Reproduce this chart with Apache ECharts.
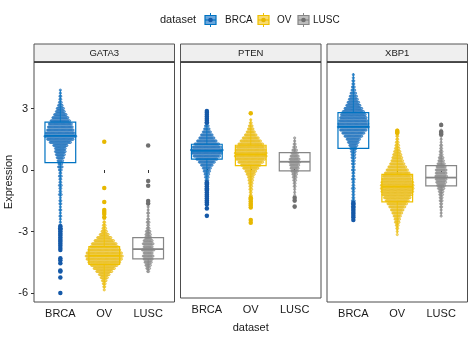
<!DOCTYPE html>
<html>
<head>
<meta charset="utf-8">
<script src="https://cdn.jsdelivr.net/npm/echarts@6/dist/echarts.min.js"></script>
<style>
html, body { margin: 0; padding: 0; background: #fff; }
#chart { width: 474px; height: 338px; }
</style>
</head>
<body>
<div id="chart"></div>
<script>
// ---- data ----------------------------------------------------------------
const genes = ['GATA3', 'PTEN', 'XBP1'];
const datasets = ['BRCA', 'OV', 'LUSC'];
const yTicks = [-6, -3, 0, 3];
const BIN_WIDTH = 0.15;   // dotplot bin size (expression units)

// box statistics per dataset: [lower whisker, Q1, median, Q3, upper whisker]
const gata3Box = [[-2.6, 0.36, 1.67, 2.34, 3.9], [-5.8, -4.6, -4.18, -3.74, -2.5], [-5.0, -4.34, -3.86, -3.3, -1.7]];
const ptenBox  = [[-0.62, 0.45, 0.86, 1.19, 2.2], [-1.35, 0.13, 0.68, 1.14, 2.45], [-1.3, -0.13, 0.32, 0.77, 1.46]];
const xbp1Box  = [[-1.5, 1.06, 2.11, 2.8, 4.72], [-3.09, -1.55, -0.81, -0.21, 1.75], [-2.23, -0.77, -0.37, 0.21, 1.6]];

// outlying samples per dataset
const gata3Outliers = [
  [-2.75, -2.85, -2.9, -3.0, -3.1, -3.2, -3.3, -3.4, -3.5, -3.6, -3.7, -3.8, -3.9, -4.3, -4.4, -4.55, -4.9, -4.95, -5.25, -6.0],
  [1.38, -0.88, -1.56, -1.95, -2.05, -2.15, -2.3],
  [1.19, -0.54, -0.77, -1.51, -1.63]
];
const ptenOutliers = [
  [2.84, 2.75, 2.65, 2.55, 2.45, 2.35, 2.25, -0.7, -0.8, -0.9, -1.0, -1.1, -1.2, -1.3, -1.4, -1.5, -1.6, -1.7, -1.8, -2.0, -2.36],
  [2.73, -1.45, -1.55, -1.65, -1.75, -1.85, -1.95, -2.57, -2.7],
  [-1.46, -1.6, -1.9]
];
const xbp1Outliers = [
  [-1.6, -1.7, -1.8, -1.9, -2.0, -2.1, -2.2, -2.3, -2.44],
  [1.92, 1.86, 1.8],
  [2.2, 1.87, 1.8, 1.73]
];

// dotplot: centre of the highest bin, then number of samples per bin going down
const gata3DotTop = [3.9, -2.4, -1.5];
const gata3DotCounts = [
  [1,1,2,2,3,5,8,10,14,18,22,26,28,30,33,36,30,24,16,12,12,10,8,6,4,5,3,2,3,2,2,3,2,2,3,1,2,2,1,2,1,2,1,1,2,3,2,2,2,2,1,1,1,0,0,1,1,0,0,1,0,1,0,0,0,0,1],
  [1,2,3,4,6,10,16,22,28,32,36,40,42,40,36,30,24,18,12,8,5,3,2,1],
  [1,1,1,1,2,1,2,3,2,3,5,6,7,10,12,10,14,10,12,10,8,6,4,2]
];
const ptenDotTop = [2.85, 2.7, 1.5];
const ptenDotCounts = [
  [1,1,2,2,3,4,6,9,13,17,22,28,32,36,34,30,24,18,13,9,7,5,4,3,3,2,3,2,2,2,2,1,1,0,0,1],
  [1,0,1,2,4,6,9,13,18,23,28,32,34,36,36,33,28,22,17,12,9,6,5,4,3,3,2,2,3,2,2,2,0,0,0,1,1],
  [1,1,2,3,5,7,9,11,12,10,9,7,5,4,3,2,2,1,1,1,1,1,0,1]
];
const xbp1DotTop = [4.65, 1.95, 2.25];
const xbp1DotCounts = [
  [1,1,2,2,3,4,6,8,10,13,16,20,24,28,30,32,34,35,30,25,20,15,12,9,7,5,4,4,3,3,2,3,2,2,3,2,2,3,2,2,2,3,3,3,2,2,2,1],
  [1,2,2,2,3,4,5,7,9,11,13,16,20,24,28,32,34,36,37,37,36,34,30,26,22,18,14,11,8,6,5,3,2,1,1],
  [1,0,1,1,1,1,1,2,2,3,3,5,6,8,10,12,12,13,12,11,9,7,5,4,3,3,2,2,1,1,1]
];

// ---- styling ---------------------------------------------------------------
const FONT = 'Liberation Sans, Arial, Helvetica, sans-serif';
const BOX_COLORS = ['#0073C2', '#EFC000', '#868686'];
const DOT_FILL   = ['#6aa6dc', '#f8da70', '#bdbdbd'];
const DOT_STROKE = ['#0b60ae', '#e0b000', '#767676'];
const OUT_COLORS = ['#1559a8', '#e7b800', '#6f6f6f'];
const DOT_R = 1.15;
const DOT_STEP = 0.02;     // horizontal spacing between stacked dots (category units)
const BOX_WIDTH = 0.7;
const Y_MIN = -6.44, Y_MAX = 5.27;

const PANEL_LEFT = [34, 180.5, 327];
const PANEL_W = 140.5;
const PANEL_TOP = 62, PANEL_H = 240;
const STRIP_H = 18;

const panels = [
  { box: gata3Box, out: gata3Outliers, top: gata3DotTop, counts: gata3DotCounts },
  { box: ptenBox,  out: ptenOutliers,  top: ptenDotTop,  counts: ptenDotCounts },
  { box: xbp1Box,  out: xbp1Outliers,  top: xbp1DotTop,  counts: xbp1DotCounts }
];

// ---- build option ------------------------------------------------------------
const grid = [], xAxis = [], yAxis = [], series = [], graphic = [];

function renderDots(params, api) {
  const x = api.value(0), y = api.value(1), n = api.value(2), d = api.value(3);
  const c = api.coord([x, y]);
  const step = api.size([DOT_STEP, 0])[0];
  const children = [];
  for (let i = 0; i < n; i++) {
    children.push({
      type: 'circle',
      shape: { cx: c[0] + (i - (n - 1) / 2) * step, cy: c[1], r: DOT_R },
      style: { fill: DOT_FILL[d], stroke: DOT_STROKE[d], lineWidth: 0.5 }
    });
  }
  return { type: 'group', children };
}

function renderBox(params, api) {
  const x = api.value(0), d = api.value(6);
  const lw = api.coord([x, api.value(1)]), q1 = api.coord([x, api.value(2)]);
  const md = api.coord([x, api.value(3)]), q3 = api.coord([x, api.value(4)]);
  const uw = api.coord([x, api.value(5)]);
  const halfW = api.size([BOX_WIDTH, 0])[0] / 2;
  const col = BOX_COLORS[d];
  return {
    type: 'group',
    children: [
      { type: 'line', shape: { x1: q3[0], y1: q3[1], x2: uw[0], y2: uw[1] }, style: { stroke: col, lineWidth: 0.8 } },
      { type: 'line', shape: { x1: q1[0], y1: q1[1], x2: lw[0], y2: lw[1] }, style: { stroke: col, lineWidth: 0.8 } },
      { type: 'rect', shape: { x: q3[0] - halfW, y: q3[1], width: halfW * 2, height: q1[1] - q3[1] },
        style: { fill: 'none', stroke: col, lineWidth: 1.2 } },
      { type: 'line', shape: { x1: md[0] - halfW, y1: md[1], x2: md[0] + halfW, y2: md[1] },
        style: { stroke: col, lineWidth: 1.8 } }
    ]
  };
}

panels.forEach((p, g) => {
  grid.push({
    left: PANEL_LEFT[g], top: PANEL_TOP, width: PANEL_W, height: PANEL_H,
    show: true, borderColor: '#4d4d4d', borderWidth: 1, backgroundColor: 'transparent'
  });
  xAxis.push({
    type: 'value', gridIndex: g, min: 0.4, max: 3.6,
    axisLine: { show: false },
    splitLine: { show: false },
    axisTick: { show: true, length: 3, customValues: [1, 2, 3], lineStyle: { color: '#333', width: 1 } },
    axisLabel: {
      customValues: [1, 2, 3], margin: 6,
      formatter: v => datasets[Math.round(v) - 1] || '',
      color: '#1a1a1a', fontSize: 11, fontFamily: FONT
    },
    name: g === 1 ? 'dataset' : '', nameLocation: 'middle', nameGap: 24,
    nameTextStyle: { color: '#1a1a1a', fontSize: 11, fontFamily: FONT }
  });
  yAxis.push({
    type: 'value', gridIndex: g, min: Y_MIN, max: Y_MAX,
    axisLine: { show: false },
    splitLine: { show: false },
    axisTick: { show: g === 0, length: 3, customValues: yTicks, lineStyle: { color: '#333', width: 1 } },
    axisLabel: {
      show: g === 0, customValues: yTicks, margin: 6,
      color: '#1a1a1a', fontSize: 11, fontFamily: FONT
    },
    name: g === 0 ? 'Expression' : '', nameLocation: 'middle', nameGap: 16,
    nameTextStyle: { color: '#1a1a1a', fontSize: 11, fontFamily: FONT }
  });

  // outlying samples
  const outData = [];
  p.out.forEach((vals, d) => vals.forEach(v => outData.push([d + 1, v, d])));
  series.push({
    type: 'scatter', xAxisIndex: g, yAxisIndex: g, data: outData,
    symbolSize: 4.5, silent: true,
    itemStyle: { color: params => OUT_COLORS[params.data[2]], opacity: 1 }
  });

  // stacked dots, one row per bin
  const dotData = [];
  p.counts.forEach((arr, d) => arr.forEach((n, k) => {
    if (n > 0) dotData.push([d + 1, +(p.top[d] - k * BIN_WIDTH).toFixed(2), n, d]);
  }));
  series.push({
    type: 'custom', xAxisIndex: g, yAxisIndex: g, data: dotData,
    encode: { x: 0, y: 1 }, renderItem: renderDots, silent: true
  });

  // boxes
  const boxData = p.box.map((b, d) => [d + 1, b[0], b[1], b[2], b[3], b[4], d]);
  series.push({
    type: 'custom', xAxisIndex: g, yAxisIndex: g, data: boxData,
    encode: { x: 0, y: [1, 5] }, renderItem: renderBox, silent: true
  });

  // facet strip
  graphic.push({
    type: 'rect', z: 10,
    shape: { x: PANEL_LEFT[g], y: PANEL_TOP - STRIP_H, width: PANEL_W, height: STRIP_H },
    style: { fill: '#efefef', stroke: '#555', lineWidth: 1 }
  });
  graphic.push({
    type: 'line', z: 11,
    shape: { x1: PANEL_LEFT[g], y1: PANEL_TOP, x2: PANEL_LEFT[g] + PANEL_W, y2: PANEL_TOP },
    style: { stroke: '#333', lineWidth: 1.6 }
  });
  graphic.push({
    type: 'text', z: 12,
    x: PANEL_LEFT[g] + PANEL_W / 2, y: PANEL_TOP - STRIP_H / 2,
    style: { text: genes[g], fontSize: 9.5, fontFamily: FONT, fill: '#1a1a1a', align: 'center', verticalAlign: 'middle' }
  });
});

// legend: title + boxplot keys
const LEGEND_Y = 20;
graphic.push({
  type: 'text', x: 160, y: LEGEND_Y,
  style: { text: 'dataset', fontSize: 11, fontFamily: FONT, fill: '#1a1a1a', align: 'left', verticalAlign: 'middle' }
});
const keyX = [210.5, 263.5, 303.5];
const labelX = [225, 277, 313];
datasets.forEach((name, d) => {
  const cx = keyX[d], cy = LEGEND_Y;
  graphic.push({
    type: 'group',
    children: [
      { type: 'line', shape: { x1: cx, y1: cy - 7, x2: cx, y2: cy + 7 }, style: { stroke: BOX_COLORS[d], lineWidth: 1 } },
      { type: 'rect', shape: { x: cx - 5.5, y: cy - 4.5, width: 11, height: 9 },
        style: { fill: DOT_FILL[d], stroke: BOX_COLORS[d], lineWidth: 1.2 } },
      { type: 'line', shape: { x1: cx - 5.5, y1: cy, x2: cx + 5.5, y2: cy }, style: { stroke: BOX_COLORS[d], lineWidth: 1.2 } },
      { type: 'circle', shape: { cx: cx, cy: cy, r: 2.3 }, style: { fill: OUT_COLORS[d] } }
    ]
  });
  graphic.push({
    type: 'text', x: labelX[d], y: cy,
    style: { text: name, fontSize: 10, fontFamily: FONT, fill: '#1a1a1a', align: 'left', verticalAlign: 'middle' }
  });
});

const chart = echarts.init(document.getElementById('chart'), null, { renderer: 'canvas' });
chart.setOption({
  animation: false,
  backgroundColor: '#ffffff',
  grid, xAxis, yAxis, series, graphic
});
</script>
</body>
</html>
